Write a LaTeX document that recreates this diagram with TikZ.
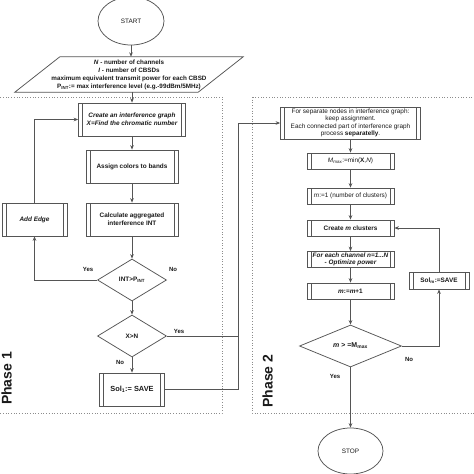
\documentclass[tikz,border=0pt]{standalone}
\usepackage{fontspec}
\setmainfont{Liberation Sans}
\usetikzlibrary{shapes.geometric,arrows.meta,calc}
\definecolor{lc}{HTML}{555555}
\definecolor{tc}{HTML}{1A1A1A}
\definecolor{dc}{HTML}{8C8C8C}
\newcommand{\fsz}{\fontsize{6.4}{7.8}\selectfont}
\begin{document}
\begin{tikzpicture}[x=1pt,y=-1pt,
  ln/.style={draw=lc,line width=0.75pt},
  arr/.style={ln,-{Stealth[length=4.5pt,width=3.6pt]}},
  txt/.style={font=\fsz,text=tc,align=center,inner sep=0pt},
  proc/.style={txt,draw=lc,line width=0.75pt,rectangle,
     path picture={\draw[lc,line width=0.6pt]
       ([xshift=4pt]path picture bounding box.north west) -- ([xshift=4pt]path picture bounding box.south west)
       ([xshift=-4pt]path picture bounding box.north east) -- ([xshift=-4pt]path picture bounding box.south east);}},
  dec/.style={txt,draw=lc,line width=0.75pt,diamond},
  term/.style={txt,draw=lc,line width=0.75pt,ellipse},
  lbl/.style={font=\fontsize{6}{7}\selectfont\bfseries,text=tc,inner sep=0pt},
  phase/.style={font=\fontsize{14}{16}\selectfont\bfseries,text=tc,rotate=90,inner sep=0pt},
  zone/.style={draw=dc,line width=0.7pt,dotted}
]
\useasboundingbox (0,0) rectangle (474,474);
\fill[white] (0,0) rectangle (474,474);

% zones
\draw[zone] (-5,97) rectangle (222,413);
\draw[zone] (252,97) rectangle (478,413);
\node[phase] (p1) at (6.5,378.5) {Phase 1};
\node[phase] (p2) at (267.5,381) {Phase 2};

% left column
\node[term,minimum width=66pt,minimum height=48pt] (start) at (131,21) {START};
\node[txt,minimum width=228pt,minimum height=35pt,font=\fontsize{6.3}{8}\selectfont\bfseries] (inp) at (129,74.5)
  {\textit{N} - number of channels\\\textit{I} - number of CBSDs\\maximum equivalent transmit power for each CBSD\\P\textsubscript{INT}:= max interference level (e.g.-99dBm/5MHz)};
\draw[ln] (inp.south west) -- ($(inp.south east)+(-45,0)$) -- (inp.north east) -- ($(inp.north west)+(45,0)$) -- cycle;

\node[proc,minimum width=107pt,minimum height=33pt,font=\fsz\bfseries\itshape] (create) at (132,119.5)
  {Create an interference graph\\X=Find the chromatic number};
\node[proc,minimum width=92pt,minimum height=33pt,font=\fsz\bfseries] (assign) at (132,166.5) {Assign colors to bands};
\node[proc,minimum width=92pt,minimum height=33pt,font=\fsz\bfseries] (calc) at (132,219.5) {Calculate aggregated\\interference INT};
\node[proc,minimum width=65pt,minimum height=33pt,font=\fsz\bfseries\itshape] (edge) at (34.5,219.5) {Add Edge};
\node[dec,minimum width=69pt,minimum height=42pt,aspect=1.64,font=\fsz\bfseries] (d1) at (132,280) {INT>P\textsubscript{INT}};
\node[dec,minimum width=69pt,minimum height=42pt,aspect=1.64,font=\fsz\bfseries] (d2) at (132,336) {X>N};
\node[proc,minimum width=65pt,minimum height=33pt,font=\fontsize{7.4}{9}\selectfont\bfseries] (sol1) at (132,389.5) {Sol\textsubscript{1}:= SAVE};

% right column
\node[proc,minimum width=140pt,minimum height=32pt,font=\fontsize{6.4}{7.4}\selectfont] (sep) at (350.5,123)
  {For separate nodes in interference graph:\\keep assignment.\\Each connected part of interference graph\\process \textbf{separatelly}.};
\node[proc,minimum width=87pt,minimum height=16pt] (mmax) at (350.5,161) {\textit{M}\textsubscript{max}:=min(\textbf{X},\textit{N})};
\node[proc,minimum width=87pt,minimum height=16pt] (m1) at (350.5,196) {\textit{m}:=1 (number of clusters)};
\node[proc,minimum width=87pt,minimum height=16pt,font=\fsz\bfseries] (cm) at (350.5,228) {Create \textit{m} clusters};
\node[proc,minimum width=87pt,minimum height=16pt,font=\fontsize{6.4}{7.2}\selectfont\bfseries\itshape] (fe) at (350.5,259.5) {For each channel n=1...N\\- Optimize power};
\node[proc,minimum width=87pt,minimum height=16pt,font=\fsz\bfseries] (mp) at (350.5,291) {\textit{m}:=\textit{m}+1};
\node[dec,minimum width=102pt,minimum height=42pt,aspect=2.43,font=\fontsize{7}{8}\selectfont\bfseries] (d3) at (350.5,346) {\textit{m} > =M\textsubscript{max}};
\node[proc,minimum width=60pt,minimum height=17pt,font=\fsz\bfseries] (solm) at (439,280.5) {Sol\textsubscript{m}:=SAVE};
\node[term,minimum width=65pt,minimum height=46pt] (stop) at (350.5,451) {STOP};

% labels
\node[lbl] (y1) at (88,269) {Yes};
\node[lbl] (n1) at (173,269) {No};
\node[lbl] (y2) at (179,331) {Yes};
\node[lbl] (n2) at (120,362) {No};
\node[lbl] (n3) at (409,359) {No};
\node[lbl] (y3) at (335,376) {Yes};

% connectors
\coordinate (j) at (238,123);
\draw[arr] (start.south) -- (start.south |- inp.north);
\draw[arr] (inp.south -| create.north) -- (create.north);
\draw[arr] (create) -- (assign);
\draw[arr] (assign) -- (calc);
\draw[arr] (calc) -- (d1);
\draw[arr] (d1) -- (d2);
\draw[arr] (d2) -- (sol1);
\draw[arr] (d1.west) -| (edge.south);
\draw[arr] (edge.north) |- (create.west);
\draw[ln] (d2.east) -- (d2.east -| j);
\draw[arr] (sol1.east) -| (j) -- (sep.west);
\draw[arr] (sep) -- (mmax);
\draw[arr] (mmax) -- (m1);
\draw[arr] (m1) -- (cm);
\draw[arr] (cm) -- (fe);
\draw[arr] (fe) -- (mp);
\draw[arr] (mp) -- (d3);
\draw[arr] (d3) -- (stop);
\draw[arr] (d3.east) -| (solm.south);
\draw[arr] (solm.north) |- (cm.east);
\end{tikzpicture}
\end{document}
